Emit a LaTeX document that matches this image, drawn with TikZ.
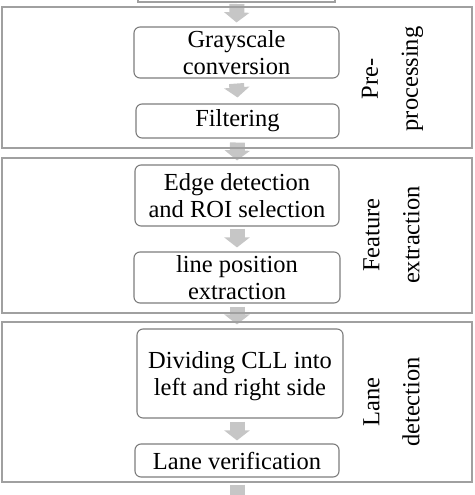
\documentclass[tikz,border=0pt]{standalone}
\usepackage{fontspec}
\setmainfont{Liberation Serif}
\usetikzlibrary{arrows.meta,calc}
\definecolor{panelgray}{RGB}{160,160,160}
\definecolor{boxgray}{RGB}{125,125,125}
\definecolor{arrowgray}{RGB}{198,198,198}
\begin{document}
\begin{tikzpicture}[x=1pt,y=-1pt,
  panel/.style={draw=panelgray, line width=2pt},
  stepbox/.style={draw=boxgray, line width=1.1pt, rounded corners=6pt, fill=white, align=center, inner sep=0pt, font=\fontsize{24.5}{27}\selectfont},
  flow/.style={draw=arrowgray, line width=15pt, -{Triangle[width=25pt,length=10pt]}},
  sidelabel/.style={rotate=90, align=center, inner sep=0pt, font=\fontsize{24.5}{40}\selectfont}]
\useasboundingbox (0,0) rectangle (474,495);
% boxes
\node[stepbox, minimum width=205pt, minimum height=51pt] (gc) at (236.5,52.5) {Grayscale\\conversion};
\node[stepbox, minimum width=203pt, minimum height=34pt] (fi) at (237.5,121) {Filtering};
\node[stepbox, minimum width=204pt, minimum height=61pt] (ed) at (237,195.5) {Edge detection\\and ROI selection};
\node[stepbox, minimum width=206pt, minimum height=51pt] (lp) at (237,277.5) {line position\\extraction};
\node[stepbox, minimum width=206pt, minimum height=89pt, text depth=-4pt] (dv) at (240,373.5) {Dividing CLL into\\left and right side};
\node[stepbox, minimum width=204pt, minimum height=33pt] (lv) at (237,460.5) {Lane verification};
\coordinate (top) at (237,2);
\coordinate (out) at (237,505);
% arrows
\draw[flow] ($(top)+(0,2)$) -- ($(gc.north)+(0,-4)$);
\draw[flow] ($(gc.south)+(0,5)$) -- ($(fi.north)+(0,-6)$);
\draw[flow] ($(fi.south)+(0,4)$) -- ($(ed.north)+(0,-4)$);
\draw[flow] ($(ed.south)+(0,2)$) -- ($(lp.north)+(0,-4)$);
\draw[flow] ($(lp.south)+(0,3)$) -- ($(lp.south |- dv.north)+(0,-4)$);
\draw[flow] ($(lv.north |- dv.south)+(0,3)$) -- ($(lv.north)+(0,-3)$);
\draw[flow] ($(lv.south)+(0,7)$) -- (out);
% panels
\draw[panel] (138,-6) rectangle (335,2);
\draw[panel] (1.5,7) rectangle (472,148);
\draw[panel] (1.5,157.5) rectangle (472,312.5);
\draw[panel] (1.5,322) rectangle (472,482);
% side labels
\node[sidelabel] (l1) at (392.5,79) {Pre-\\processing};
\node[sidelabel] (l2) at (391.5,235) {Feature\\extraction};
\node[sidelabel] (l3) at (391.5,402) {Lane\\detection};
\end{tikzpicture}
\end{document}
